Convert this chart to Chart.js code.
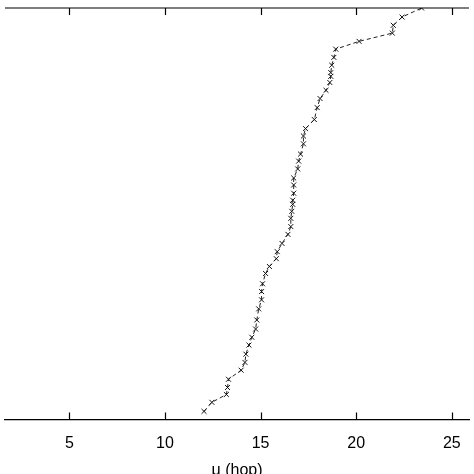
<!DOCTYPE html>
<html>
<head>
<meta charset="utf-8">
<script src="https://cdn.jsdelivr.net/npm/chart.js@4"></script>
<style>
  html, body { margin: 0; padding: 0; background: #fff; }
  #wrap { width: 474px; height: 474px; }
</style>
</head>
<body>
<div id="wrap"><canvas id="cdf"></canvas></div>
<script>
// valores (mu en hop, fraccion acumulada)
const muValues = [12.04, 12.45, 13.21, 13.27, 13.32, 13.98, 14.18, 14.23, 14.39, 14.54,
  14.74, 14.80, 14.90, 15.05, 15.05, 15.10, 15.26, 15.46, 15.82, 15.87,
  16.12, 16.43, 16.58, 16.58, 16.63, 16.68, 16.68, 16.73, 16.73, 16.73,
  16.94, 16.99, 17.09, 17.24, 17.24, 17.35, 17.81, 17.96, 18.11, 18.42,
  18.62, 18.67, 18.67, 18.72, 18.83, 18.93, 20.15, 21.89, 21.94, 22.40, 23.42];
const cdfValues = [0.020, 0.042, 0.061, 0.078, 0.098, 0.120, 0.139, 0.159, 0.181, 0.200,
  0.220, 0.242, 0.269, 0.291, 0.311, 0.330, 0.355, 0.372, 0.391, 0.408,
  0.428, 0.450, 0.469, 0.489, 0.506, 0.523, 0.533, 0.550, 0.570, 0.587,
  0.609, 0.628, 0.645, 0.670, 0.689, 0.707, 0.729, 0.758, 0.780, 0.800,
  0.819, 0.834, 0.843, 0.861, 0.880, 0.900, 0.919, 0.939, 0.958, 0.978, 1.0];
const xTicks = [5, 10, 15, 20, 25];

const points = muValues.map((m, i) => ({ x: m, y: cdfValues[i] }));

// dibuja el borde superior y las marcas hacia adentro
const frame = {
  id: 'frame',
  afterDraw(chart) {
    const { ctx, chartArea: a, scales: { x } } = chart;
    ctx.save();
    ctx.strokeStyle = '#000';
    ctx.lineWidth = 1.2;
    ctx.beginPath();
    ctx.moveTo(a.left, a.top); ctx.lineTo(a.right, a.top);
    xTicks.forEach(t => {
      const px = Math.round(x.getPixelForValue(t)) + 0.5;
      ctx.moveTo(px, a.bottom); ctx.lineTo(px, a.bottom - 7);
      ctx.moveTo(px, a.top); ctx.lineTo(px, a.top + 7);
    });
    ctx.stroke();
    ctx.restore();
  }
};

new Chart(document.getElementById('cdf'), {
  type: 'scatter',
  data: {
    datasets: [{
      data: points,
      showLine: true,
      borderColor: '#222',
      borderWidth: 1,
      borderDash: [4, 3],
      pointStyle: 'crossRot',
      pointRadius: 3.5,
      pointBorderColor: '#111',
      pointBorderWidth: 1
    }]
  },
  options: {
    responsive: true,
    maintainAspectRatio: false,
    animation: false,
    layout: { padding: { top: 8, left: -5, right: -4, bottom: -6 } },
    plugins: { legend: { display: false }, tooltip: { enabled: false } },
    scales: {
      x: {
        min: 1.63, max: 25.9,
        afterBuildTicks: s => { s.ticks = xTicks.map(v => ({ value: v })); },
        grid: { display: false },
        border: { display: true, color: '#000', width: 1.2 },
        ticks: { color: '#000', padding: 6, font: { family: 'Liberation Sans', size: 16 } },
        title: { display: true, text: 'μ (hop)', color: '#000', padding: { top: 2, bottom: 0 },
                 font: { family: 'Liberation Sans', size: 16 } }
      },
      y: {
        display: false,
        min: 0, max: 1
      }
    }
  },
  plugins: [frame]
});
</script>
</body>
</html>
